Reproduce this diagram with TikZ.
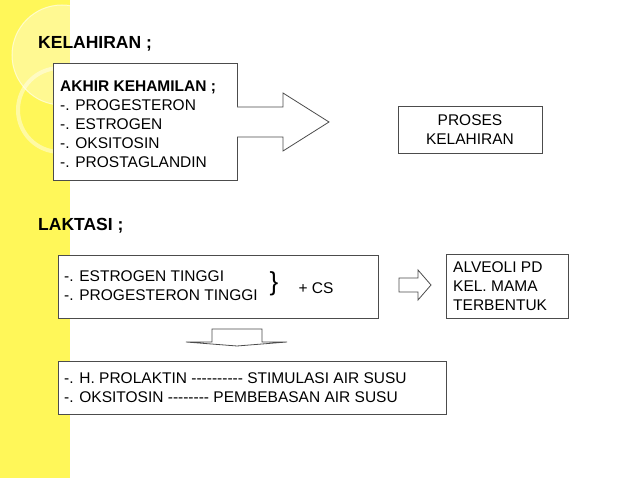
\documentclass[tikz,border=0pt]{standalone}
\usepackage{fontspec}
\setmainfont{Liberation Sans}
\begin{document}
\begin{tikzpicture}[x=1pt,y=-1pt,
 bx/.style={draw=black!70,line width=0.8pt,fill=white},
 txt/.style={font=\fontsize{15.5}{19}\selectfont,align=left,inner sep=0pt},
 ttl/.style={font=\bfseries\fontsize{17.5}{20}\selectfont,inner sep=0pt,anchor=west}]
\useasboundingbox (0,0) rectangle (638,478);
\fill[yellow!65!white] (0,0) rectangle (70,478);
\begin{scope}
\clip (0,0) rectangle (70,478);
\fill[white,opacity=0.35] (62,55) circle (50);
\draw[white,opacity=0.6,line width=1pt] (62,55) circle (50);
\draw[white,opacity=0.45,line width=4pt] (60,110) circle (42);
\end{scope}
\node[ttl] (t1) at (38,44) {KELAHIRAN ;};
\node[ttl] (t2) at (38,226) {LAKTASI ;};
\draw[bx] (53,63) rectangle (237,180);
\node[txt,anchor=north west] (a) at (60,81) {\textbf{AKHIR KEHAMILAN ;}\\-. PROGESTERON\\-. ESTROGEN\\-. OKSITOSIN\\-. PROSTAGLANDIN};
\draw[bx] (237,107) -- (283,107) -- (283,93) -- (329,122) -- (283,151) -- (283,137) -- (237,137);
\draw[bx] (398,106) rectangle (542,153);
\node[txt,align=center] (p) at (470,129.5) {PROSES\\KELAHIRAN};
\draw[bx] (58,255) rectangle (378,318);
\node[txt,anchor=west] (e) at (64,286) {-. ESTROGEN TINGGI\\-. PROGESTERON TINGGI};
\node[font=\fontsize{26}{26}\selectfont,inner sep=0pt] (br) at (274,284) {\}};
\node[txt] (cs) at (316,288) {+ CS};
\draw[bx] (399,278) -- (418,278) -- (418,270) -- (431,285) -- (418,300) -- (418,292) -- (399,292) -- cycle;
\draw[bx] (446,254) rectangle (568,318);
\node[txt,anchor=west] (al) at (453,286) {ALVEOLI PD\\KEL. MAMA\\TERBENTUK};
\draw[bx] (212,342) -- (212,329) -- (262,329) -- (262,342) -- (287,342) -- (237,346) -- (186,342) -- cycle;
\draw[bx] (58,361) rectangle (446,414);
\node[txt,anchor=west] (h) at (64,388) {-. H. PROLAKTIN -{}-{}-{}-{}-{}-{}-{}-{}-{}- STIMULASI AIR SUSU\\-. OKSITOSIN -{}-{}-{}-{}-{}-{}-{}- PEMBEBASAN AIR SUSU};
\end{tikzpicture}
\end{document}
